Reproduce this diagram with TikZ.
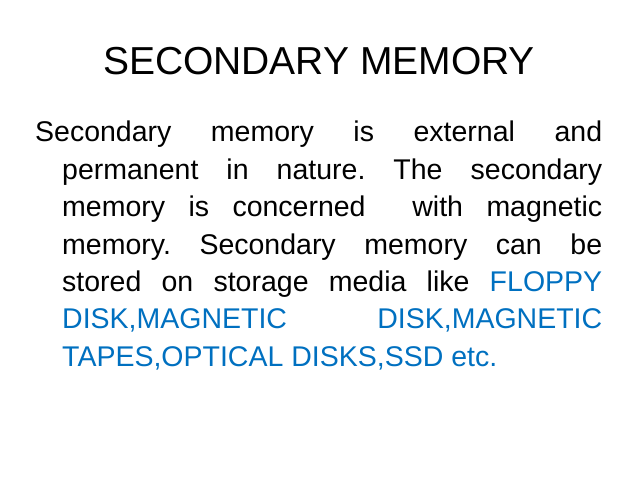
\documentclass[tikz,border=0pt]{standalone}
\usepackage{fontspec}
\setmainfont{Liberation Sans}
\definecolor{lnk}{RGB}{0,112,192}
\newcommand{\jl}[2]{\hbox to #1pt{#2}}
\begin{document}
\begin{tikzpicture}[x=1pt,y=1pt,
  body/.style={anchor=base west,inner sep=0pt,font=\fontsize{28.5}{32}\selectfont}]
\useasboundingbox (0,0) rectangle (638,478);
\node[anchor=base,inner sep=0pt,font=\fontsize{39}{44}\selectfont] (title) at (319,403) {SECONDARY MEMORY};
\node[body] (l1) at (35,336) {\jl{567}{Secondary\hfill memory\hfill is\hfill external\hfill and}};
\node[body] (l2) at (62,298) {\jl{540}{permanent\hfill in\hfill nature.\hfill The\hfill secondary}};
\node[body] (l3) at (62,261) {\jl{540}{memory\hfill is\hfill concerned\hfill\hfill with\hfill magnetic}};
\node[body] (l4) at (62,223) {\jl{540}{memory.\hfill Secondary\hfill memory\hfill can\hfill be}};
\node[body] (l5) at (62,186) {\jl{540}{stored\hfill on\hfill storage\hfill media\hfill like\hfill \textcolor{lnk}{FLOPPY}}};
\node[body] (l6) at (62,149) {\jl{540}{\textcolor{lnk}{DISK,MAGNETIC\hfill DISK,MAGNETIC}}};
\node[body] (l7) at (62,111) {\textcolor{lnk}{TAPES,OPTICAL DISKS,SSD etc.}};
\end{tikzpicture}
\end{document}
